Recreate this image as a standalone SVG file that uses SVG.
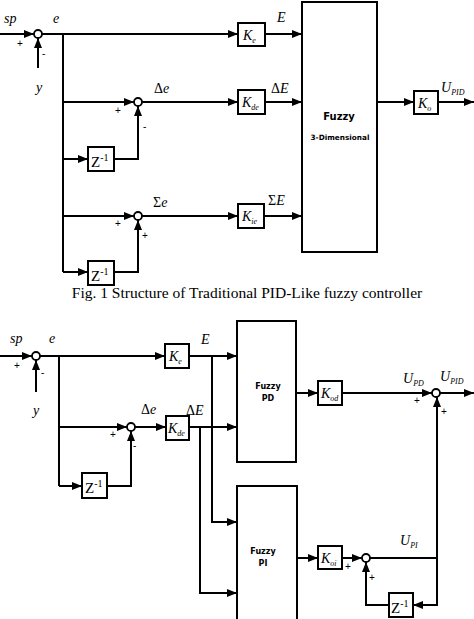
<svg xmlns="http://www.w3.org/2000/svg" width="474" height="619" viewBox="0 0 474 619">
<defs>
<style>
.w{fill:none;stroke:#000;stroke-width:2}
.a{fill:none;stroke:#000;stroke-width:2;marker-end:url(#ah)}
.b{fill:#fff;stroke:#000;stroke-width:2}
.j{fill:#fff;stroke:#000;stroke-width:1.8}
.t{font-family:"Liberation Serif",serif;font-style:italic;font-size:14px;fill:#000}
.u{font-style:normal}
.s{font-family:"Liberation Serif",serif;font-style:italic;font-size:8px}
.p{font-family:"Liberation Sans",sans-serif;font-size:10px;fill:#000}
.f{font-family:"DejaVu Sans",sans-serif;font-weight:bold;fill:#000;text-anchor:middle}
.c{font-family:"Liberation Serif",serif;font-size:15.5px;fill:#000;text-anchor:middle}
.z{font-family:"Liberation Serif",serif;font-size:15px;fill:#000}
</style>
<marker id="ah" viewBox="0 0 10 8" refX="10" refY="4" markerWidth="10" markerHeight="8" markerUnits="userSpaceOnUse" orient="auto">
<path d="M0,0 L10,4 L0,8 Z" fill="#000"/>
</marker>
</defs>

<g id="connectors">
<path class="a" d="M0,34 H34"/>
<path class="a" d="M38,68 V38"/>
<path class="a" d="M42,34 H238"/>
<path class="a" d="M265,34 H302"/>
<path class="w" d="M63,34 V272"/>
<path class="a" d="M63,102 H134"/>
<path class="a" d="M142,102 H238"/>
<path class="a" d="M265,102 H302"/>
<path class="a" d="M63,159 H88"/>
<path class="a" d="M114,159 H138 V106"/>
<path class="a" d="M63,216 H134"/>
<path class="a" d="M142,216 H238"/>
<path class="a" d="M264,216 H302"/>
<path class="a" d="M63,272 H88"/>
<path class="a" d="M114,272 H138 V220"/>
<path class="a" d="M377,102 H414"/>
<path class="a" d="M438,102 H474"/>
<path class="a" d="M0,356 H32"/>
<path class="a" d="M36,392 V360"/>
<path class="a" d="M40,356 H165"/>
<path class="a" d="M189,356 H237"/>
<path class="a" d="M212,356 V522 H237"/>
<path class="w" d="M59,356 V486"/>
<path class="a" d="M59,427 H127"/>
<path class="a" d="M135,427 H166"/>
<path class="a" d="M189,427 H237"/>
<path class="a" d="M200,427 V593 H237"/>
<path class="a" d="M59,486 H82"/>
<path class="a" d="M107,486 H131 V431"/>
<path class="a" d="M296,393 H318"/>
<path class="a" d="M342,393 H432"/>
<path class="a" d="M440,393 H474"/>
<path class="a" d="M437,558 V397"/>
<path class="a" d="M297,558 H318"/>
<path class="a" d="M342,558 H362"/>
<path class="w" d="M370,558 H437"/>
<path class="a" d="M437,558 V605 H413"/>
<path class="a" d="M389,605 H366 V562"/>
</g>

<g id="sum1"><circle class="j" cx="38" cy="34" r="4"/></g>
<g id="Ke1"><rect class="b" x="238" y="23" width="27" height="23"/><text class="t" x="243" y="40">K<tspan class="s" dy="3">e</tspan></text></g>
<g id="fuzzy3d"><rect class="b" x="302" y="2" width="75" height="250"/>
<text class="f" x="339" y="120" font-size="10">Fuzzy</text>
<text class="f" x="340" y="140" font-size="7.3">3-Dimensional</text></g>
<g id="sum2"><circle class="j" cx="138" cy="102" r="4"/></g>
<g id="Kde1"><rect class="b" x="238" y="90" width="27" height="24"/><text class="t" x="242" y="107">K<tspan class="s" dy="3">de</tspan></text></g>
<g id="z1"><rect class="b" x="88" y="147" width="26" height="24"/><text class="z" x="91" y="167">Z<tspan font-size="10" dy="-6">-1</tspan></text></g>
<g id="sum3"><circle class="j" cx="138" cy="216" r="4"/></g>
<g id="Kie1"><rect class="b" x="238" y="204" width="26" height="24"/><text class="t" x="242" y="221">K<tspan class="s" dy="3">ie</tspan></text></g>
<g id="z2"><rect class="b" x="88" y="261" width="26" height="24"/><text class="z" x="91" y="281">Z<tspan font-size="10" dy="-6">-1</tspan></text></g>
<g id="Ko1"><rect class="b" x="414" y="91" width="24" height="23"/><text class="t" x="418" y="108">K<tspan class="s" dy="3">o</tspan></text></g>

<g id="labels-top">
<text class="t" x="4" y="23">sp</text>
<text class="t" x="53" y="23">e</text>
<text class="p" x="17" y="47">+</text>
<text class="p" x="42" y="57">-</text>
<text class="t" x="36" y="92">y</text>
<text class="t" x="277" y="22">E</text>
<text class="t" x="154" y="93"><tspan class="u">Δ</tspan>e</text>
<text class="t" x="271" y="93"><tspan class="u">Δ</tspan>E</text>
<text class="p" x="115" y="114">+</text>
<text class="p" x="143" y="130">-</text>
<text class="t" x="153" y="207"><tspan class="u">Σ</tspan>e</text>
<text class="t" x="268" y="205"><tspan class="u">Σ</tspan>E</text>
<text class="p" x="115" y="227">+</text>
<text class="p" x="142" y="239">+</text>
<text class="t" x="441" y="92">U<tspan class="s" dy="3">PID</tspan></text>
<text class="c" x="247" y="298">Fig. 1 Structure of Traditional PID-Like fuzzy controller</text>
</g>

<g id="sum4"><circle class="j" cx="36" cy="356" r="4"/></g>
<g id="Ke2"><rect class="b" x="165" y="344" width="24" height="24"/><text class="t" x="169" y="361">K<tspan class="s" dy="3">e</tspan></text></g>
<g id="sum5"><circle class="j" cx="131" cy="427" r="4"/></g>
<g id="Kde2"><rect class="b" x="166" y="416" width="23" height="24"/><text class="t" x="168" y="433">K<tspan class="s" dy="3">de</tspan></text></g>
<g id="z3"><rect class="b" x="82" y="473" width="25" height="25"/><text class="z" x="85" y="493">Z<tspan font-size="10" dy="-6">-1</tspan></text></g>
<g id="fuzzyPD"><rect class="b" x="237" y="321" width="59" height="141"/>
<text class="f" x="268" y="389" font-size="8">Fuzzy</text>
<text class="f" x="268" y="401" font-size="8">PD</text></g>
<g id="fuzzyPI"><rect class="b" x="237" y="486" width="60" height="140"/>
<text class="f" x="263" y="554" font-size="8">Fuzzy</text>
<text class="f" x="263" y="566" font-size="8">PI</text></g>
<g id="Kod"><rect class="b" x="318" y="381" width="24" height="24"/><text class="t" x="321" y="398">K<tspan class="s" dy="3">od</tspan></text></g>
<g id="sum6"><circle class="j" cx="436" cy="393" r="4"/></g>
<g id="Koi"><rect class="b" x="318" y="546" width="24" height="23"/><text class="t" x="321" y="563">K<tspan class="s" dy="3">oi</tspan></text></g>
<g id="sum7"><circle class="j" cx="366" cy="558" r="4"/></g>
<g id="z4"><rect class="b" x="389" y="593" width="24" height="24"/><text class="z" x="391" y="613">Z<tspan font-size="10" dy="-6">-1</tspan></text></g>

<g id="labels-bottom">
<text class="t" x="10" y="343">sp</text>
<text class="t" x="49" y="343">e</text>
<text class="p" x="14" y="369">+</text>
<text class="p" x="41" y="376">-</text>
<text class="t" x="33" y="415">y</text>
<text class="t" x="201" y="344">E</text>
<text class="t" x="141" y="414"><tspan class="u">Δ</tspan>e</text>
<text class="t" x="186" y="415"><tspan class="u">Δ</tspan>E</text>
<text class="p" x="110" y="438">+</text>
<text class="p" x="133" y="449">-</text>
<text class="t" x="403" y="383">U<tspan class="s" dy="3">PD</tspan></text>
<text class="t" x="440" y="381">U<tspan class="s" dy="3">PID</tspan></text>
<text class="p" x="414" y="404">+</text>
<text class="p" x="441" y="415">+</text>
<text class="t" x="400" y="545">U<tspan class="s" dy="3">PI</tspan></text>
<text class="p" x="345" y="570">+</text>
<text class="p" x="369" y="581">+</text>
</g>
</svg>
